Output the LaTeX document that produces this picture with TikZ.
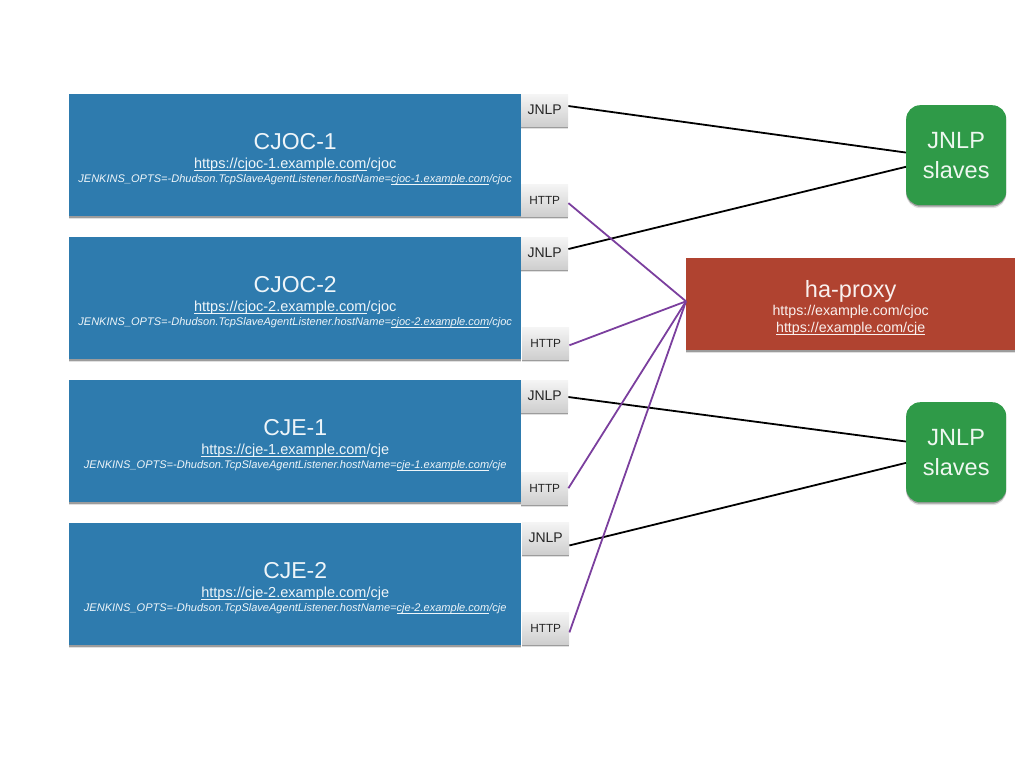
\documentclass[tikz,border=0pt]{standalone}
\usepackage{fontspec}
\setmainfont{Liberation Sans}
\usetikzlibrary{shadows}
\definecolor{boxblue}{HTML}{2E7BAE}
\definecolor{boxred}{HTML}{B04330}
\definecolor{boxgreen}{HTML}{2F9A48}
\definecolor{linkpurple}{HTML}{7B3F9E}
\newcommand{\lnk}[1]{\underline{\smash{#1}}}
\tikzset{
	softshadow/.style={drop shadow={shadow xshift=0pt,shadow yshift=-3pt,opacity=.12,fill=black},drop shadow={shadow xshift=0pt,shadow yshift=-1.5pt,opacity=.3,fill=black}},
	instance/.style={fill=boxblue,text=white!92!boxblue,minimum width=452pt,minimum height=122pt,inner sep=0pt,align=center,anchor=north west,softshadow},
	port/.style={top color=gray!8,bottom color=gray!38,text=black!85,minimum width=47pt,minimum height=32pt,inner sep=0pt,anchor=north west,softshadow},
	slaves/.style={fill=boxgreen,text=white!92!boxgreen,rounded corners=14pt,minimum width=100pt,minimum height=100pt,inner sep=0pt,align=center,anchor=north west,font=\fontsize{23.5}{30}\selectfont,softshadow},
	proxy/.style={fill=boxred,text=white!92!boxred,minimum width=329pt,minimum height=92pt,inner sep=0pt,align=center,anchor=north west,softshadow},
	jnlpline/.style={black,line width=1.8pt},
	httpline/.style={linkpurple,line width=1.8pt}
}
\begin{document}
\begin{tikzpicture}[x=1pt,y=-1pt]
	\useasboundingbox (0,0) rectangle (1024,768);
	\foreach \name/\title/\host/\ctx/\y in {cjoc1/CJOC-1/cjoc-1/cjoc/94,cjoc2/CJOC-2/cjoc-2/cjoc/237,cje1/CJE-1/cje-1/cje/380,cje2/CJE-2/cje-2/cje/523}{
		\node[instance] (\name) at (69,\y) {\rule{0pt}{24pt}{\fontsize{23}{25}\selectfont \title}\\[6.5pt]
			{\fontsize{14.5}{16}\selectfont \lnk{https://\host.example.com}/\ctx}\\[2pt]
			{\fontsize{11.04}{13}\selectfont\itshape JENKINS\_OPTS=-Dhudson.TcpSlaveAgentListener.hostName=\lnk{\host.example.com}/\ctx}};
	}
	\foreach \name/\jx/\jy/\hx/\hy in {cjoc1/521/94/521/184,cjoc2/521/237/522/327,cje1/521/380/521/472,cje2/522/522/522/612}{
		\node[port,font=\fontsize{14}{16}\selectfont] (\name jnlp) at (\jx,\jy) {JNLP};
		\node[port,font=\fontsize{11.8}{14}\selectfont] (\name http) at (\hx,\hy) {HTTP};
	}
	\node[slaves] (slavesa) at (906,105) {JNLP\\slaves};
	\node[slaves] (slavesb) at (906,402) {JNLP\\slaves};
	\node[proxy] (haproxy) at (686,258) {\rule{0pt}{24pt}{\fontsize{23.5}{26}\selectfont ha-proxy}\\[2pt]
		{\fontsize{14.2}{17}\selectfont https://example.com/cjoc}\\[5pt]
		{\fontsize{14.2}{17}\selectfont \lnk{https://example.com/cje}}};
	\draw[jnlpline] (cjoc1jnlp.10)--(slavesa.177);
	\draw[jnlpline] (cjoc2jnlp.10)--(slavesa.193);
	\draw[jnlpline] (cje1jnlp.358)--(slavesb.168);
	\draw[jnlpline] (cje2jnlp.343)--(slavesb.192);
	\foreach \name/\ang in {cjoc1/353,cjoc2/355,cje1/0,cje2/350}
		\draw[httpline] (\name http.\ang)--(haproxy.179);
\end{tikzpicture}
\end{document}
